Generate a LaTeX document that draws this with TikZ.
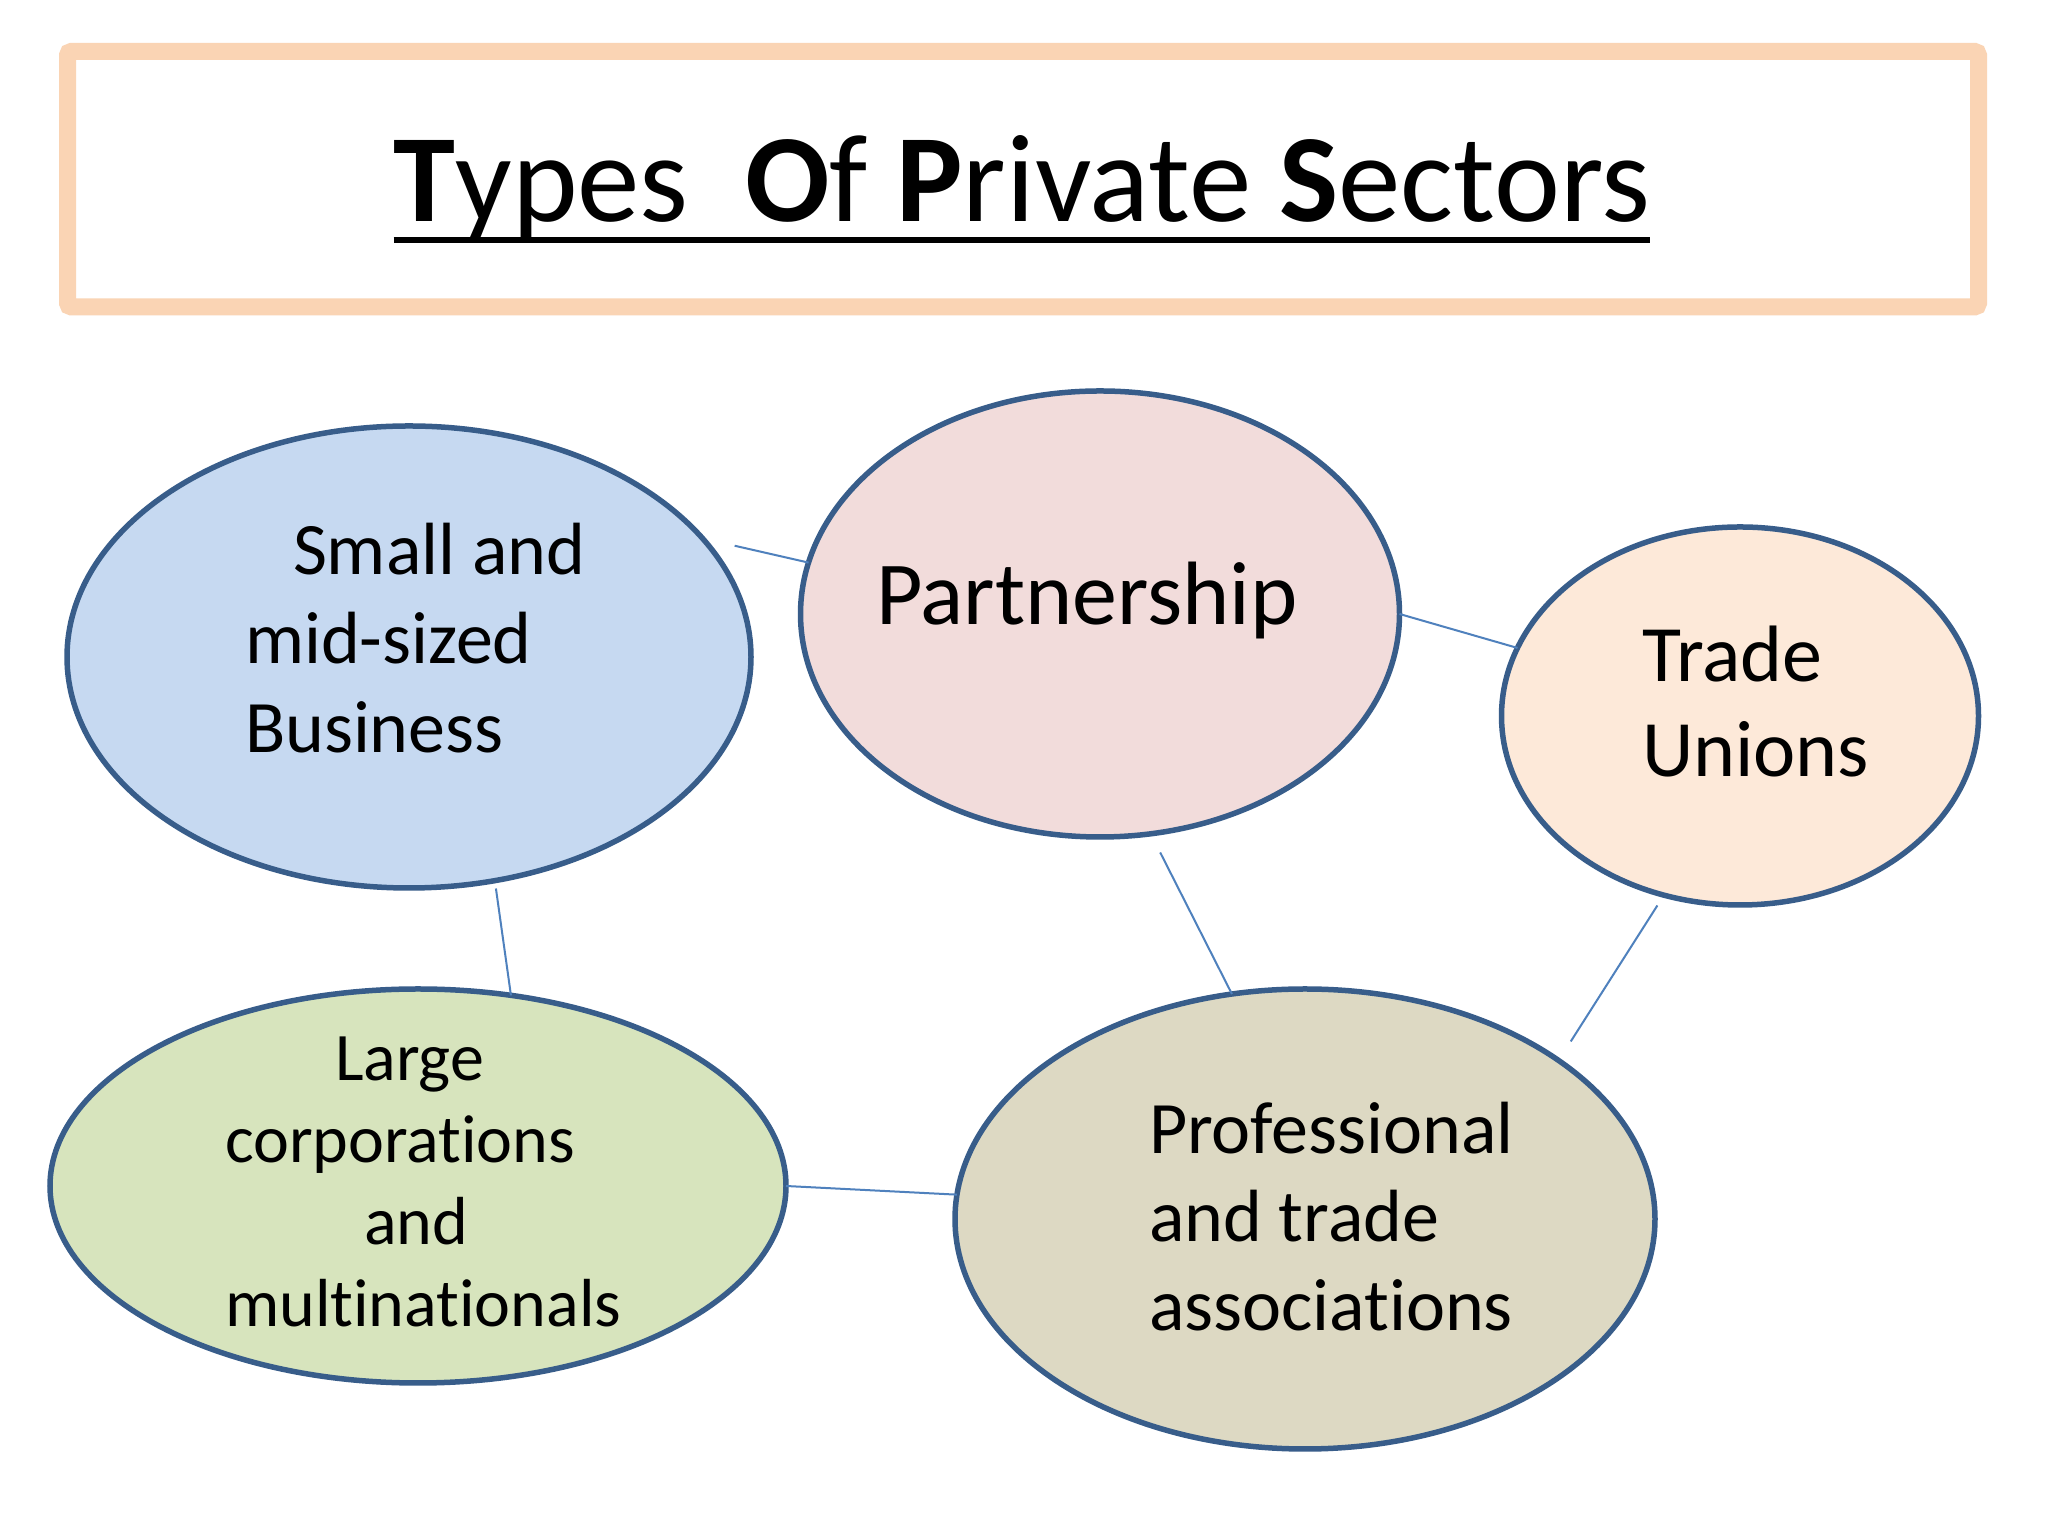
\documentclass[tikz,border=0pt]{standalone}
\usepackage{fontspec}
\setmainfont{Carlito}[Ligatures=NoCommon]
\usetikzlibrary{shapes.geometric}
\definecolor{boxpeach}{HTML}{FAD4B4}
\definecolor{ellblue}{HTML}{385D8A}
\definecolor{linkblue}{HTML}{4F81BD}
\definecolor{fillsmall}{HTML}{C6D9F1}
\definecolor{fillpartner}{HTML}{F2DCDB}
\definecolor{filltrade}{HTML}{FDE9D9}
\definecolor{filllarge}{HTML}{D7E4BD}
\definecolor{fillprof}{HTML}{DDD9C3}
\tikzset{
  sect/.style={ellipse, draw=ellblue, line width=5.5, inner sep=0, outer sep=0},
  link/.style={draw=linkblue, line width=2},
  lbl/.style={inner sep=0, outer sep=0, text=black},
}
\begin{document}
\begin{tikzpicture}[x=1pt,y=1pt]
\useasboundingbox (0,0) rectangle (2048,1536);
\fill[white] (0,0) rectangle (2048,1536);

% title box
\node[draw=boxpeach, line width=17, rounded corners=4, minimum width=1911, minimum height=255.6, inner sep=0] (titlebox) at (1023,1356.8) {};
\node[lbl, anchor=base, font=\fontsize{125}{150}\selectfont] (title) at (1022,1314.3)
  {{\bfseries T}ypes\ \ {\bfseries O}f {\bfseries P}rivate {\bfseries S}ectors};
\draw[line width=6.6] ([yshift=-18.3]title.base west) -- ([yshift=-18.3]title.base east);

% ellipses
\node[sect, fill=fillsmall,   minimum width=684, minimum height=462] (small)   at (409,879) {};
\node[sect, fill=fillpartner, minimum width=599, minimum height=446] (partner) at (1100,922) {};
\node[sect, fill=filltrade,   minimum width=477, minimum height=378] (trade)   at (1740,820) {};
\node[sect, fill=filllarge,   minimum width=736, minimum height=394] (large)   at (418,350) {};
\node[sect, fill=fillprof,    minimum width=700, minimum height=460] (prof)    at (1305,317) {};

% labels (base anchor = baseline of last line)
\node[lbl, anchor=base west, align=left, font=\fontsize{74}{89}\selectfont] (smalltxt) at (245,783)
  {\hspace*{48pt}Small and\\mid-sized\\Business};
\node[lbl, anchor=base west, font=\fontsize{90}{108}\selectfont] (partnertxt) at (876,911.4) {Partnership};
\node[lbl, anchor=base west, align=left, font=\fontsize{80}{95}\selectfont] (tradetxt) at (1642,759.2) {Trade\\Unions};
\node[lbl, anchor=base west, align=left, font=\fontsize{68}{82}\selectfont] (largetxt) at (225,209)
  {\hspace*{110pt}Large\\corporations\\\hspace*{139pt}and\\multinationals};
\node[lbl, anchor=base west, align=left, font=\fontsize{74}{88.5}\selectfont] (proftxt) at (1149,205.6)
  {Professional\\and trade\\associations};

% connectors
\draw[link, shorten <=33] (small.22) -- (partner.170);
\draw[link] (partner.0) -- (trade.163);
\draw[link, shorten <=8] (small.-69) -- (large.64);
\draw[link, shorten <=21] (partner.-77) -- (prof.108);
\draw[link, shorten <=12.3, shorten >=22.6] (trade.-113.7) -- (prof.32.1);
\draw[link] (large.0) -- (prof.176);
\end{tikzpicture}
\end{document}
